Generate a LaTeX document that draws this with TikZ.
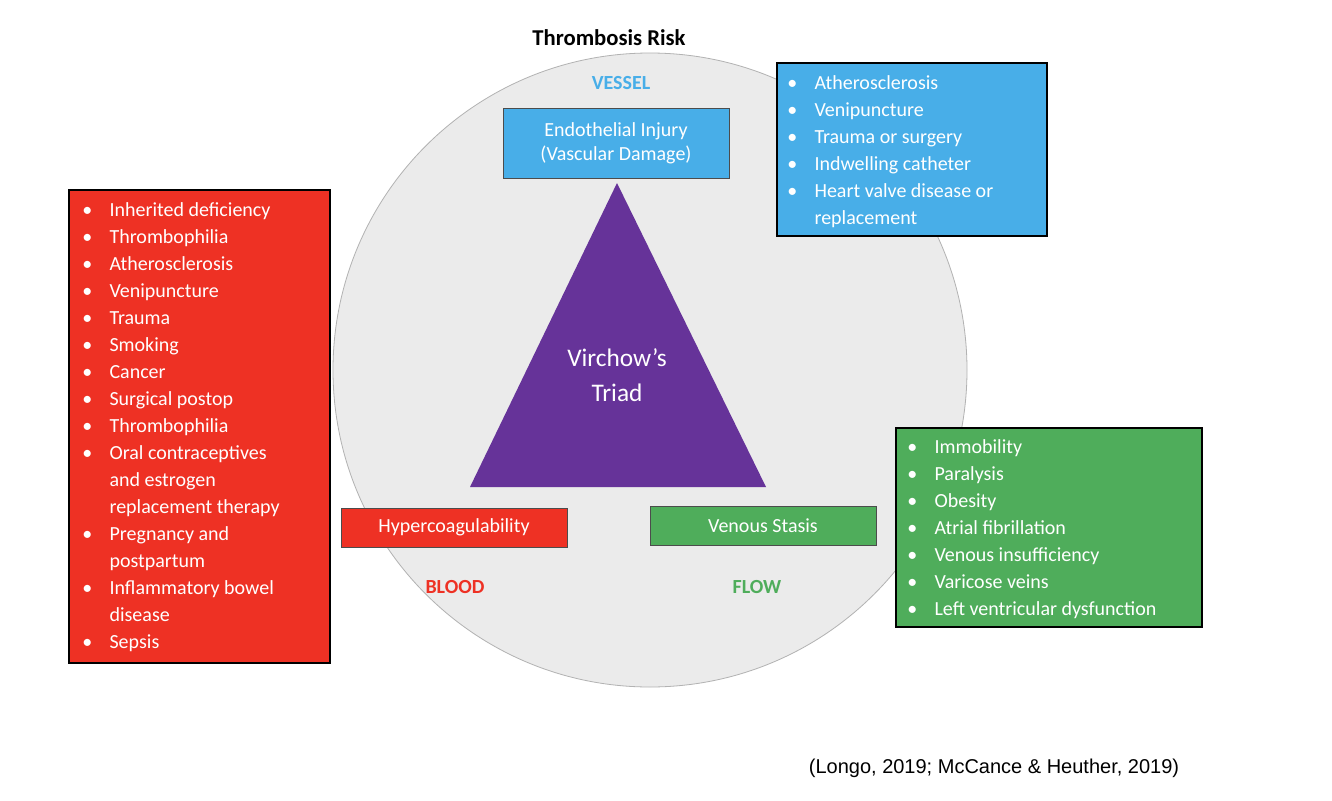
\documentclass[tikz,border=0pt]{standalone}
\usepackage{fontspec}
\setmainfont{Carlito}
\newfontfamily\arialf{Liberation Sans}
\definecolor{cred}{HTML}{EE3124}
\definecolor{cblue}{HTML}{48AEE8}
\definecolor{cgreen}{HTML}{4FAD5B}
\definecolor{cpurple}{HTML}{663399}
\definecolor{cbg}{HTML}{EBEBEB}
\begin{document}
\begin{tikzpicture}[x=0.75pt,y=-0.75pt,
  listbox/.style={draw=black,line width=1.4pt},
  smallbox/.style={draw=black!70,line width=0.6pt,text=white,font=\fontsize{15}{18}\selectfont},
  listtext/.style={anchor=north west,inner sep=0pt,text=white,font=\fontsize{15}{20.25}\selectfont},
  lbl/.style={font=\bfseries\fontsize{15}{18}\selectfont}]
\useasboundingbox (0,0) rectangle (1332,800);
\fill[white] (0,0) rectangle (1332,800);
\node[draw=black!30,fill=cbg,circle,minimum size=634*0.75pt,line width=0.6pt] (circ) at (650,370) {};
\coordinate (apex) at (617,183);
\coordinate (bl) at (470,487);
\coordinate (br) at (766,487);
\fill[cpurple] (apex) -- (bl) -- (br) -- cycle;
\node[text=white,align=center,font=\fontsize{19}{26}\selectfont] (vt) at (617,375) {Virchow's\\Triad};
\node[font=\bfseries\fontsize{17}{20}\selectfont] (title) at (609,38) {Thrombosis Risk};
\node[lbl,text=cblue] (vessel) at (621,83) {VESSEL};
\node[lbl,text=cred] (blood) at (455,587) {BLOOD};
\node[lbl,text=cgreen] (flow) at (757,587) {FLOW};
\node[smallbox,fill=cblue,minimum width=226*0.75pt,minimum height=70*0.75pt,align=center] (endo) at (616,143) {Endothelial Injury\\(Vascular Damage)};
\node[smallbox,fill=cred,minimum width=226*0.75pt,minimum height=39*0.75pt] (hyper) at (454,527.5) {Hypercoagulability};
\node[smallbox,fill=cgreen,minimum width=226*0.75pt,minimum height=39*0.75pt] (stasis) at (763,525.5) {Venous Stasis};
% blue list
\fill[cblue] (777,63) rectangle (1047,236);
\node[listbox,minimum width=270*0.75pt,minimum height=173*0.75pt] (bluebox) at (912,149.5) {};
\node[listtext] (bluelist) at (787,70) {\begin{tabular}{@{}l@{\hspace{13pt}}l@{}}
•&Atherosclerosis\\ •&Venipuncture\\ •&Trauma or surgery\\ •&Indwelling catheter\\ •&Heart valve disease or\\ &replacement\end{tabular}};
% red list
\fill[cred] (69,190) rectangle (330,663);
\node[listbox,minimum width=261*0.75pt,minimum height=473*0.75pt] (redbox) at (199.5,426.5) {};
\node[listtext] (redlist) at (82,197) {\begin{tabular}{@{}l@{\hspace{13pt}}l@{}}
•&Inherited deficiency\\ •&Thrombophilia\\ •&Atherosclerosis\\ •&Venipuncture\\ •&Trauma\\ •&Smoking\\ •&Cancer\\ •&Surgical postop\\ •&Thrombophilia\\ •&Oral contraceptives\\ &and estrogen\\ &replacement therapy\\ •&Pregnancy and\\ &postpartum\\ •&Inflammatory bowel\\ &disease\\ •&Sepsis\end{tabular}};
% green list
\fill[cgreen] (896,428) rectangle (1202,627);
\node[listbox,minimum width=306*0.75pt,minimum height=199*0.75pt] (greenbox) at (1049,527.5) {};
\node[listtext] (greenlist) at (907,434) {\begin{tabular}{@{}l@{\hspace{13pt}}l@{}}
•&Immobility\\ •&Paralysis\\ •&Obesity\\ •&Atrial fibrillation\\ •&Venous insufficiency\\ •&Varicose veins\\ •&Left ventricular dysfunction\end{tabular}};
\node[font=\arialf\fontsize{15}{18}\selectfont] (cite) at (994,768) {(Longo, 2019; McCance \& Heuther, 2019)};
\end{tikzpicture}
\end{document}
